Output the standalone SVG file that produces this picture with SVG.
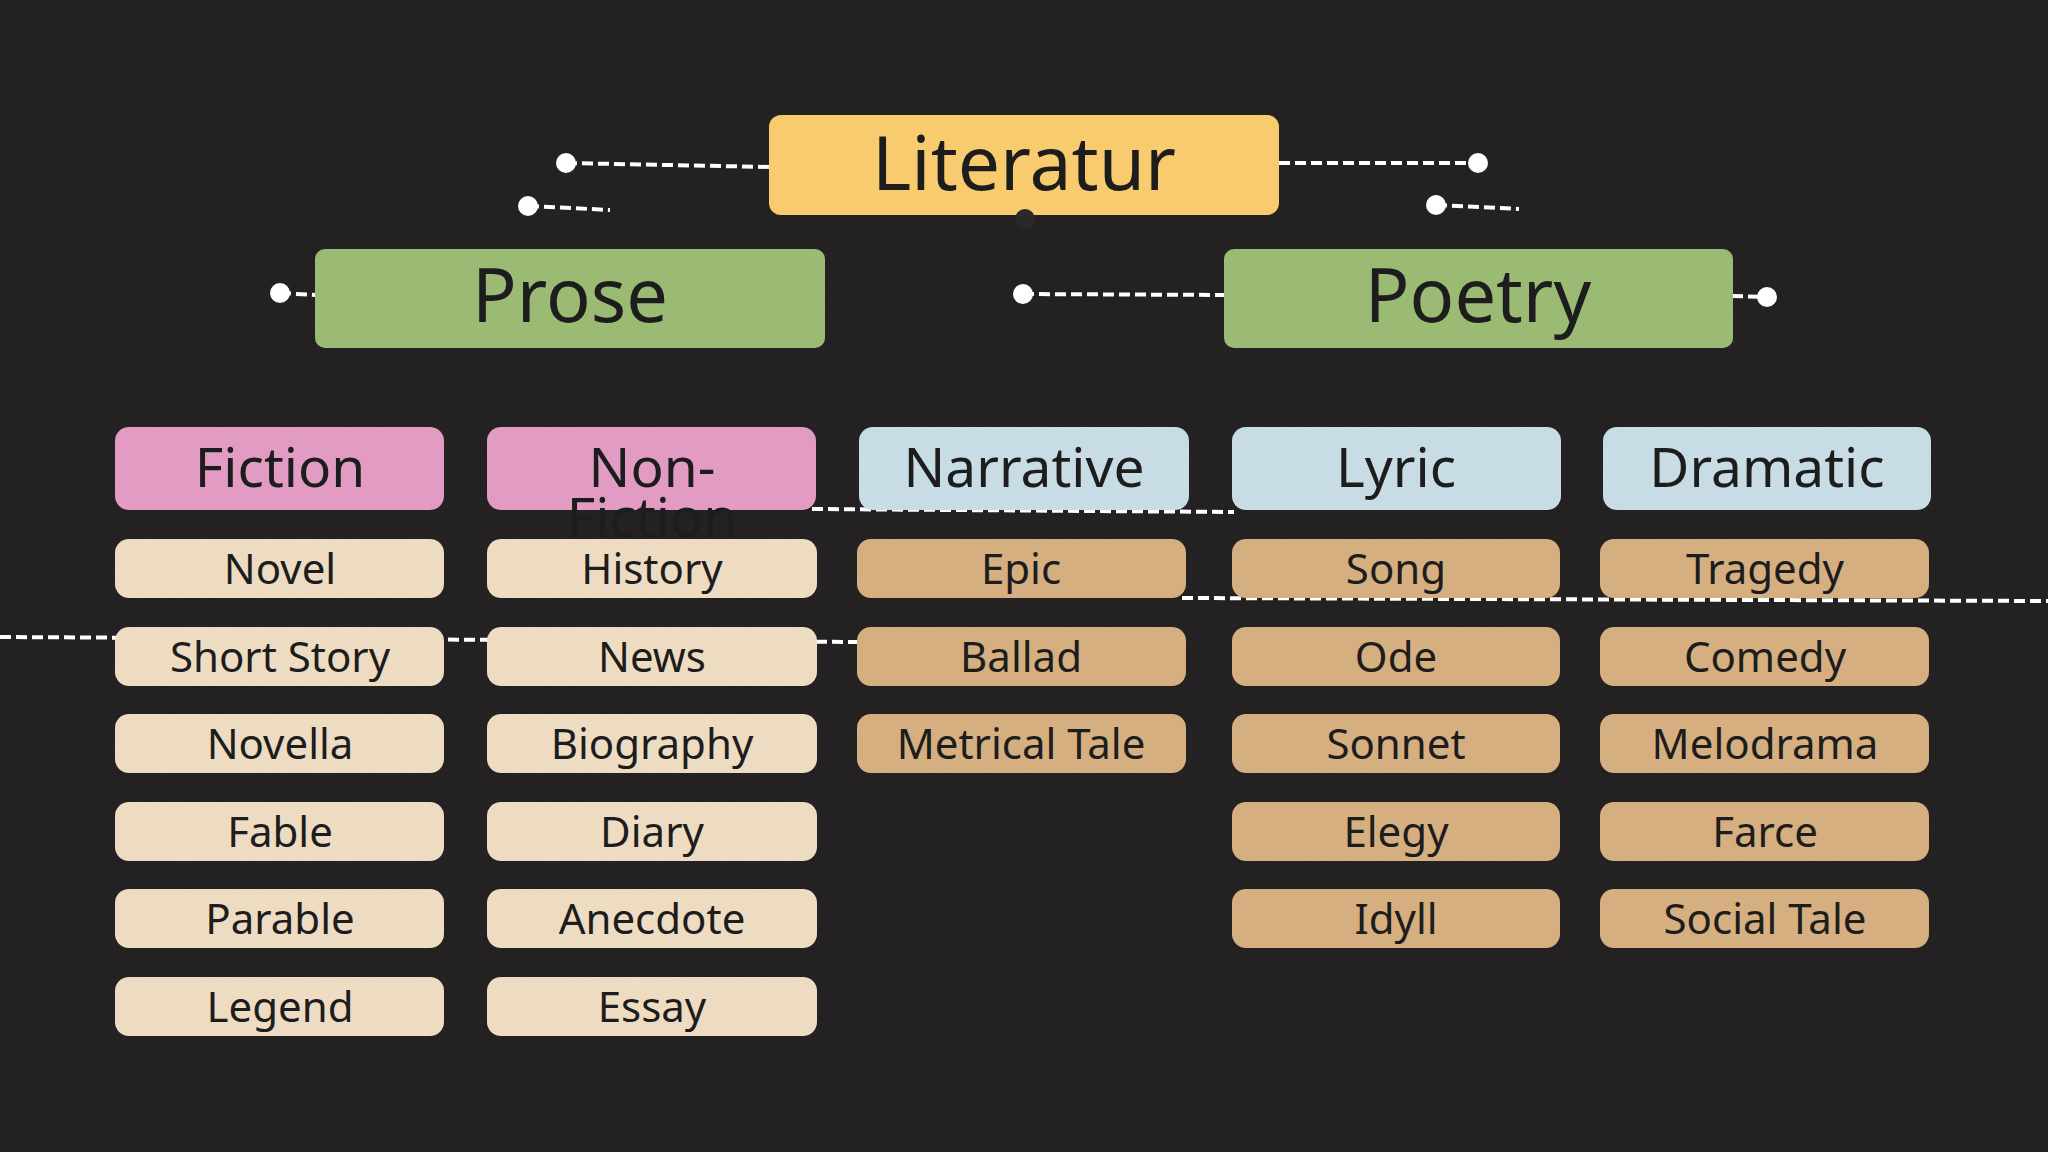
<svg xmlns="http://www.w3.org/2000/svg" width="2048" height="1152" viewBox="0 0 2048 1152">
<defs>
<filter id="grain" x="0" y="0" width="100%" height="100%">
<feTurbulence type="fractalNoise" baseFrequency="0.9" numOctaves="2" seed="3"/>
<feColorMatrix type="matrix" values="0 0 0 0 1  0 0 0 0 1  0 0 0 0 1  0 0 0 0.9 -0.55"/>
</filter>
<style>
.bg{fill:#232121}
.t{font-family:"Noto Sans","Open Sans","Liberation Sans",sans-serif;fill:#1e1d1d;text-anchor:middle}
.t0{font-size:75px}
.t1{font-size:74px}
.t2{font-size:55px}
.t3{font-size:42px}
.lit{fill:#F8CC6E}
.gen{fill:#9BBA73}
.pro{fill:#E29BC3}
.poe{fill:#C8DCE6}
.lp{fill:#EEDCC2}
.lv{fill:#D6AF80}
.c{stroke:#ffffff;stroke-width:4;stroke-dasharray:11 5;fill:none}
.d{fill:#ffffff}
</style>
</defs>
<rect class="bg" x="0" y="0" width="2048" height="1152"/>
<rect x="0" y="0" width="2048" height="1152" filter="url(#grain)" opacity="0.12"/>

<g id="connectors">
<line class="c" x1="566" y1="163" x2="769" y2="167"/>
<circle class="d" cx="566" cy="163" r="10"/>
<line class="c" x1="528" y1="206" x2="610" y2="210"/>
<circle class="d" cx="528" cy="206" r="10"/>
<line class="c" x1="1279" y1="163" x2="1478" y2="163"/>
<circle class="d" cx="1478" cy="163" r="10"/>
<line class="c" x1="1436" y1="205" x2="1519" y2="209"/>
<circle class="d" cx="1436" cy="205" r="10"/>
<line class="c" x1="280" y1="293" x2="316" y2="295"/>
<circle class="d" cx="280" cy="293" r="10"/>
<line class="c" x1="1023" y1="294" x2="1225" y2="295"/>
<circle class="d" cx="1023" cy="294" r="10"/>
<line class="c" x1="1732" y1="296" x2="1767" y2="297"/>
<circle class="d" cx="1767" cy="297" r="10"/>
<line class="c" x1="812" y1="509" x2="1234" y2="512"/>
<line class="c" x1="1182" y1="598" x2="2048" y2="601"/>
<line class="c" x1="0" y1="637" x2="857" y2="642"/>
</g>

<g id="n-literatur">
<rect class="lit" x="769" y="115" width="510" height="100" rx="12"/>
<text class="t t0" x="1024" y="190">Literatur</text>
</g>
<circle cx="1025" cy="219" r="10" fill="#2a2828"/>
<g id="n-prose">
<rect class="gen" x="315" y="249" width="510" height="99" rx="10"/>
<text class="t t1" x="570" y="322">Prose</text>
</g>
<g id="n-poetry">
<rect class="gen" x="1224" y="249" width="509" height="99" rx="10"/>
<text class="t t1" x="1478" y="322">Poetry</text>
</g>

<g id="n-fiction">
<rect class="pro" x="115" y="427" width="329" height="83" rx="14"/>
<text class="t t2" x="280" y="487">Fiction</text>
</g>
<g id="n-nonfiction">
<rect class="pro" x="487" y="427" width="329" height="83" rx="14"/>
<text class="t t2" x="652" y="487">Non-</text>
<text class="t t2" x="652" y="537">Fiction</text>
</g>
<g id="n-narrative">
<rect class="poe" x="859" y="427" width="330" height="83" rx="14"/>
<text class="t t2" x="1024" y="487">Narrative</text>
</g>
<g id="n-lyric">
<rect class="poe" x="1232" y="427" width="329" height="83" rx="14"/>
<text class="t t2" x="1396" y="487">Lyric</text>
</g>
<g id="n-dramatic">
<rect class="poe" x="1603" y="427" width="328" height="83" rx="14"/>
<text class="t t2" x="1767" y="487">Dramatic</text>
</g>

<g id="n-novel"><rect class="lp" x="115" y="539" width="329" height="59" rx="14"/><text class="t t3" x="280" y="584">Novel</text></g>
<g id="n-shortstory"><rect class="lp" x="115" y="627" width="329" height="59" rx="14"/><text class="t t3" x="280" y="672">Short Story</text></g>
<g id="n-novella"><rect class="lp" x="115" y="714" width="329" height="59" rx="14"/><text class="t t3" x="280" y="759">Novella</text></g>
<g id="n-fable"><rect class="lp" x="115" y="802" width="329" height="59" rx="14"/><text class="t t3" x="280" y="847">Fable</text></g>
<g id="n-parable"><rect class="lp" x="115" y="889" width="329" height="59" rx="14"/><text class="t t3" x="280" y="934">Parable</text></g>
<g id="n-legend"><rect class="lp" x="115" y="977" width="329" height="59" rx="14"/><text class="t t3" x="280" y="1022">Legend</text></g>

<g id="n-history"><rect class="lp" x="487" y="539" width="330" height="59" rx="14"/><text class="t t3" x="652" y="584">History</text></g>
<g id="n-news"><rect class="lp" x="487" y="627" width="330" height="59" rx="14"/><text class="t t3" x="652" y="672">News</text></g>
<g id="n-biography"><rect class="lp" x="487" y="714" width="330" height="59" rx="14"/><text class="t t3" x="652" y="759">Biography</text></g>
<g id="n-diary"><rect class="lp" x="487" y="802" width="330" height="59" rx="14"/><text class="t t3" x="652" y="847">Diary</text></g>
<g id="n-anecdote"><rect class="lp" x="487" y="889" width="330" height="59" rx="14"/><text class="t t3" x="652" y="934">Anecdote</text></g>
<g id="n-essay"><rect class="lp" x="487" y="977" width="330" height="59" rx="14"/><text class="t t3" x="652" y="1022">Essay</text></g>

<g id="n-epic"><rect class="lv" x="857" y="539" width="329" height="59" rx="14"/><text class="t t3" x="1021" y="584">Epic</text></g>
<g id="n-ballad"><rect class="lv" x="857" y="627" width="329" height="59" rx="14"/><text class="t t3" x="1021" y="672">Ballad</text></g>
<g id="n-metricaltale"><rect class="lv" x="857" y="714" width="329" height="59" rx="14"/><text class="t t3" x="1021" y="759">Metrical Tale</text></g>

<g id="n-song"><rect class="lv" x="1232" y="539" width="328" height="59" rx="14"/><text class="t t3" x="1396" y="584">Song</text></g>
<g id="n-ode"><rect class="lv" x="1232" y="627" width="328" height="59" rx="14"/><text class="t t3" x="1396" y="672">Ode</text></g>
<g id="n-sonnet"><rect class="lv" x="1232" y="714" width="328" height="59" rx="14"/><text class="t t3" x="1396" y="759">Sonnet</text></g>
<g id="n-elegy"><rect class="lv" x="1232" y="802" width="328" height="59" rx="14"/><text class="t t3" x="1396" y="847">Elegy</text></g>
<g id="n-idyll"><rect class="lv" x="1232" y="889" width="328" height="59" rx="14"/><text class="t t3" x="1396" y="934">Idyll</text></g>

<g id="n-tragedy"><rect class="lv" x="1600" y="539" width="329" height="59" rx="14"/><text class="t t3" x="1765" y="584">Tragedy</text></g>
<g id="n-comedy"><rect class="lv" x="1600" y="627" width="329" height="59" rx="14"/><text class="t t3" x="1765" y="672">Comedy</text></g>
<g id="n-melodrama"><rect class="lv" x="1600" y="714" width="329" height="59" rx="14"/><text class="t t3" x="1765" y="759">Melodrama</text></g>
<g id="n-farce"><rect class="lv" x="1600" y="802" width="329" height="59" rx="14"/><text class="t t3" x="1765" y="847">Farce</text></g>
<g id="n-socialtale"><rect class="lv" x="1600" y="889" width="329" height="59" rx="14"/><text class="t t3" x="1765" y="934">Social Tale</text></g>
</svg>
